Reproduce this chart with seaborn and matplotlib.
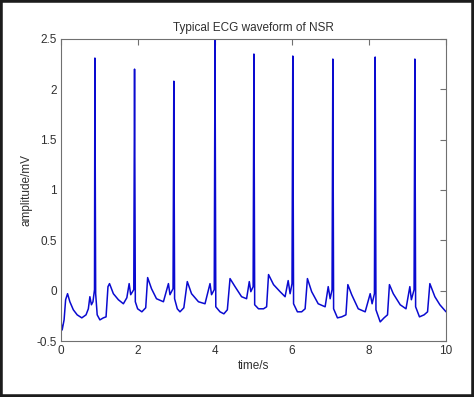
import matplotlib
matplotlib.use('Agg')
import matplotlib.pyplot as plt
import matplotlib.ticker as mtick
from matplotlib.patches import Rectangle
import seaborn as sns

# ECG trace (time in s, amplitude in mV)
time_s = [
    0.00, 0.03, 0.08, 0.12, 0.17, 0.23, 0.32, 0.42, 0.54, 0.65, 0.71, 0.75, 0.79, 0.83, 0.87, 0.88, 0.90, 0.94,
    1.01, 1.10, 1.17, 1.22, 1.26, 1.36, 1.49, 1.62, 1.71, 1.77, 1.81, 1.89, 1.91, 1.93, 1.99,
    2.10, 2.20, 2.25, 2.35, 2.48, 2.66, 2.79, 2.83, 2.91, 2.93, 2.95,
    3.02, 3.09, 3.19, 3.28, 3.39, 3.57, 3.74, 3.87, 3.91, 3.98,
    4.00, 4.02, 4.13, 4.23, 4.32, 4.39, 4.52, 4.69, 4.82, 4.89, 4.93, 4.99,
    5.01, 5.03, 5.13, 5.26, 5.34, 5.39, 5.52, 5.69, 5.82, 5.90, 5.95, 6.00,
    6.02, 6.04, 6.14, 6.25, 6.34, 6.40, 6.51, 6.68, 6.86, 6.94, 6.99,
    7.04, 7.06, 7.08, 7.18, 7.29, 7.40, 7.45, 7.55, 7.72, 7.90,
    8.03, 8.08, 8.14, 8.16, 8.18, 8.29, 8.39, 8.48, 8.53, 8.63, 8.81, 8.96,
    9.06, 9.10, 9.17, 9.19, 9.21, 9.31, 9.43, 9.52, 9.58, 9.71, 9.84, 10.00,
]
amplitude_mv = [
    -0.31, -0.39, -0.29, -0.09, -0.03, -0.11, -0.19, -0.24, -0.27, -0.24, -0.18, -0.06, -0.14, -0.11, 0.01, 2.31, -0.03, -0.24,
    -0.29, -0.27, -0.26, 0.04, 0.07, -0.03, -0.09, -0.13, -0.07, 0.07, -0.04, 0.01, 2.20, -0.11, -0.18,
    -0.21, -0.17, 0.13, 0.02, -0.08, -0.11, 0.07, -0.04, 0.02, 2.08, -0.08,
    -0.18, -0.21, -0.17, 0.09, -0.03, -0.11, -0.13, 0.07, -0.04, 0.01,
    2.50, -0.16, -0.21, -0.23, -0.19, 0.12, 0.04, -0.06, -0.08, 0.09, -0.01, 0.04,
    2.35, -0.14, -0.18, -0.18, -0.16, 0.16, 0.06, -0.01, -0.06, 0.10, -0.03, 0.07,
    2.33, -0.13, -0.21, -0.21, -0.18, 0.12, -0.01, -0.13, -0.16, 0.04, -0.08,
    0.01, 2.30, -0.18, -0.27, -0.26, -0.24, 0.06, -0.04, -0.18, -0.21,
    -0.03, -0.13, -0.03, 2.32, -0.19, -0.31, -0.27, -0.24, 0.06, -0.03, -0.14, -0.18,
    0.04, -0.09, 0.01, 2.30, -0.16, -0.26, -0.24, -0.21, 0.07, -0.06, -0.14, -0.21,
]
x_ticks = [0, 2, 4, 6, 8, 10]
y_ticks = [-0.5, 0, 0.5, 1, 1.5, 2, 2.5]

sns.set_style('white')
plt.rcParams['font.family'] = ['Liberation Sans', 'DejaVu Sans']

fig = plt.figure(figsize=(4.74, 3.97), dpi=100)
ax = fig.add_axes([0.1287, 0.141, 0.8123, 0.761])

sns.lineplot(x=time_s, y=amplitude_mv, ax=ax, color='#0a0ad0', linewidth=1.1, estimator=None, sort=False)

ax.set_xlim(0, 10)
ax.set_ylim(-0.5, 2.5)
ax.set_xticks(x_ticks)
ax.set_yticks(y_ticks)
ax.yaxis.set_major_formatter(mtick.FuncFormatter(lambda v, _: f'{v:g}'))
ax.tick_params(direction='in', length=4, width=0.8, color='#707070', labelcolor='#303030',
               labelsize=8.5, top=True, right=True, pad=3)
for s in ax.spines.values():
    s.set_color('#707070')
    s.set_linewidth(0.8)

ax.set_title('Typical ECG waveform of NSR', fontsize=8.5, color='#303030', pad=6)
ax.set_xlabel('time/s', fontsize=8.5, color='#303030', labelpad=2)
ax.set_ylabel('amplitude/mV', fontsize=8.5, color='#303030', labelpad=3)

# dark frame round the picture
fig.patches.append(Rectangle((0, 0), 1, 1, transform=fig.transFigure, fill=False,
                             edgecolor='#1c1c1c', linewidth=4))

fig.savefig('out.png', dpi=100)
